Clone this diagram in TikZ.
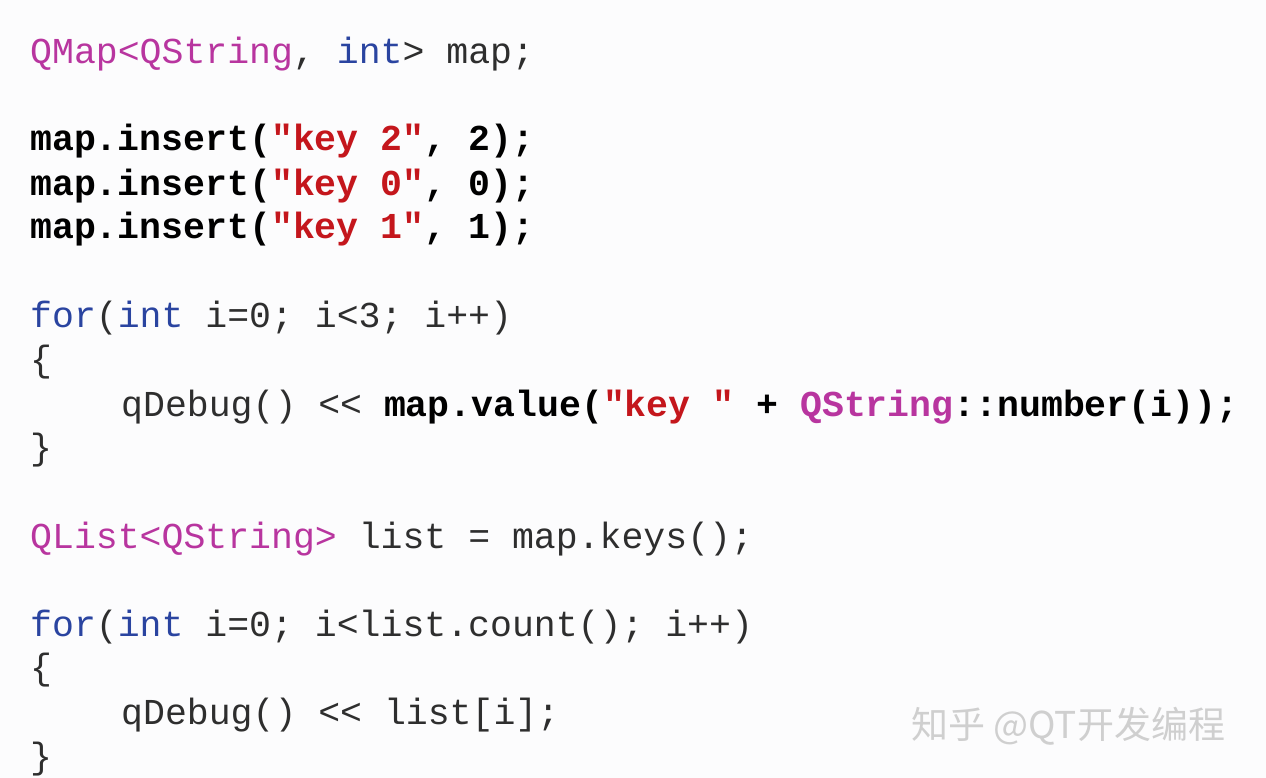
\documentclass[tikz,border=0pt]{standalone}
\usepackage{fontspec}
\setmonofont{Liberation Mono}
\newfontfamily\cjk{Noto Sans CJK SC}
\definecolor{qmag}{HTML}{B8359F}
\definecolor{qblue}{HTML}{2A44A0}
\definecolor{qtxt}{HTML}{2E2E2E}
\definecolor{qred}{HTML}{C4161C}
\definecolor{bg}{HTML}{FCFCFD}
\newcommand{\M}[1]{\textcolor{qmag}{#1}}
\newcommand{\B}[1]{\textcolor{qblue}{#1}}
\newcommand{\R}[1]{\textcolor{qred}{#1}}
\newcommand{\K}[1]{\textcolor{black}{#1}}
\begin{document}
\begin{tikzpicture}[x=1pt,y=-1pt,
  code/.style={anchor=base west,inner sep=0pt,font=\ttfamily\fontsize{36.5}{40}\selectfont,text=qtxt}]
\fill[bg] (0,0) rectangle (1266,778);
\useasboundingbox (0,0) rectangle (1266,778);
\def\ind{121}
\node[code] (l1) at (30,64) {\M{QMap<QString}, \B{int}> map;};
\node[code] (l2) at (30,151) {\bfseries\K{map.insert(\R{"key 2"}, 2);}};
\node[code] (l3) at (30,196) {\bfseries\K{map.insert(\R{"key 0"}, 0);}};
\node[code] (l4) at (30,239) {\bfseries\K{map.insert(\R{"key 1"}, 1);}};
\node[code] (l5) at (30,327) {\B{for}(\B{int} i=0; i<3; i++)};
\node[code] (l6) at (30,371) {\{};
\node[code] (l7) at (\ind,416) {qDebug() << \bfseries\K{map.value(\R{"key "} + \M{QString}::number(i));}};
\node[code] (l8) at (30,459) {\}};
\node[code] (l9) at (30,548) {\M{QList<QString>} list = map.keys();};
\node[code] (l10) at (30,636) {\B{for}(\B{int} i=0; i<list.count(); i++)};
\node[code] (l11) at (30,679) {\{};
\node[code] (l12) at (\ind,724) {qDebug() << list[i];};
\node[code] (l13) at (30,768) {\}};
\node[anchor=west,inner sep=0pt,font=\cjk\fontsize{37}{42}\selectfont,text=white!62!gray] (wm) at (911,726) {知乎 @QT开发编程};
\end{tikzpicture}
\end{document}
